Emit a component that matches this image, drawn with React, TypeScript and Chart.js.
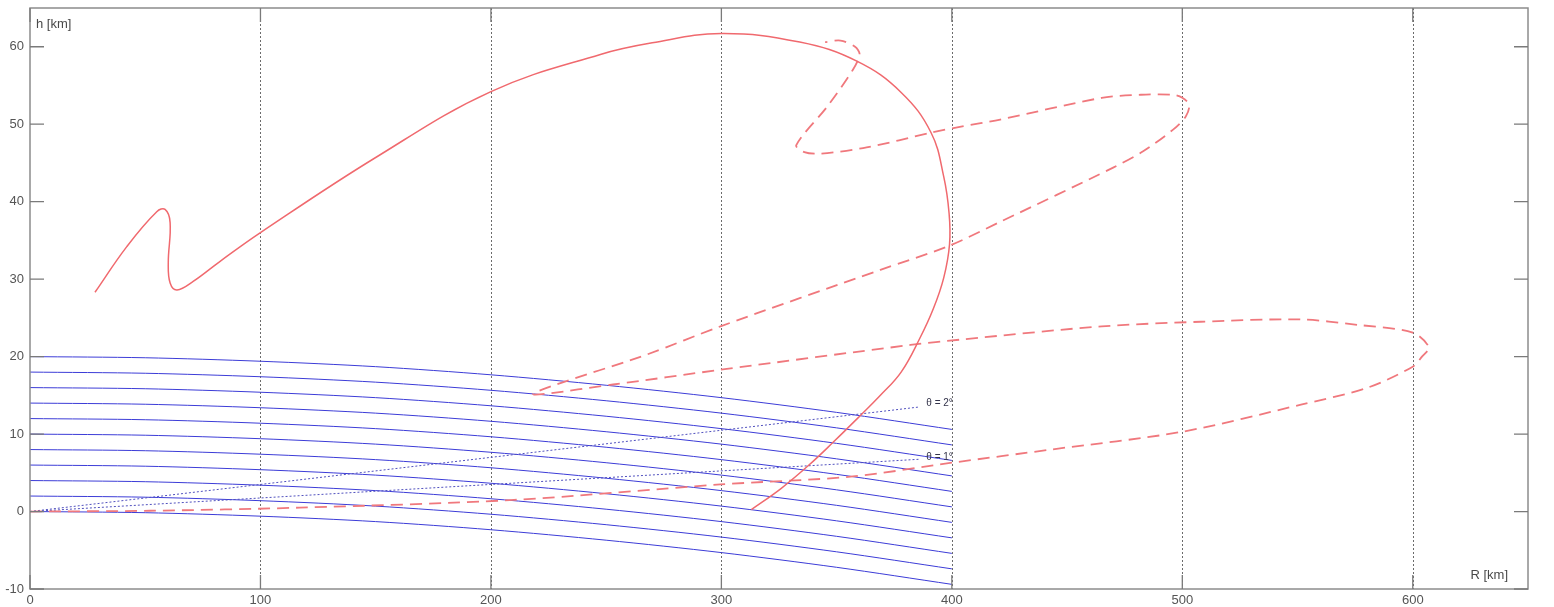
import React, { useEffect, useRef } from "react";
import { Chart, registerables } from "chart.js";

Chart.register(...registerables);

// ---- axes ----
const X_TICKS = [0, 100, 200, 300, 400, 500, 600];
const Y_TICKS = [-10, 0, 10, 20, 30, 40, 50, 60];
const X_MIN = 0;
const X_MAX = 650;
const Y_MIN = -10;
const Y_MAX = 65;

// ---- blue beam lines (range R in km, height h in km) ----
const BEAM_R = [0, 50, 100, 150, 200, 250, 300, 350, 400];
const BEAM_H0 = [0, -0.15, -0.6, -1.3, -2.35, -3.7, -5.3, -7.2, -9.4];
const BEAM_H2 = [2, 1.85, 1.4, 0.7, -0.35, -1.7, -3.3, -5.2, -7.4];
const BEAM_H4 = [4, 3.85, 3.4, 2.7, 1.65, 0.3, -1.3, -3.2, -5.4];
const BEAM_H6 = [6, 5.85, 5.4, 4.7, 3.65, 2.3, 0.7, -1.2, -3.4];
const BEAM_H8 = [8, 7.85, 7.4, 6.7, 5.65, 4.3, 2.7, 0.8, -1.4];
const BEAM_H10 = [10, 9.85, 9.4, 8.7, 7.65, 6.3, 4.7, 2.8, 0.6];
const BEAM_H12 = [12, 11.85, 11.4, 10.7, 9.65, 8.3, 6.7, 4.8, 2.6];
const BEAM_H14 = [14, 13.85, 13.4, 12.7, 11.65, 10.3, 8.7, 6.8, 4.6];
const BEAM_H16 = [16, 15.85, 15.4, 14.7, 13.65, 12.3, 10.7, 8.8, 6.6];
const BEAM_H18 = [18, 17.85, 17.4, 16.7, 15.65, 14.3, 12.7, 10.8, 8.6];
const BEAM_H20 = [20, 19.85, 19.4, 18.7, 17.65, 16.3, 14.7, 12.8, 10.6];
const BEAMS = [BEAM_H0, BEAM_H2, BEAM_H4, BEAM_H6, BEAM_H8, BEAM_H10, BEAM_H12, BEAM_H14, BEAM_H16, BEAM_H18, BEAM_H20];

// ---- elevation rays ----
const RAY_R = [0, 386];
const RAY_2DEG_H = [0, 13.5];
const RAY_1DEG_H = [0, 6.75];
const RAY_LABELS = ["θ = 2°", "θ = 1°"];
const RAY_LABEL_POS_R = [400, 400];
const RAY_LABEL_POS_H = [14.0, 7.0];

// ---- red solid curve ----
const SOLID_R = [28.2, 42, 55, 58.6, 60.8, 60, 60.8, 63.8, 70.8, 82.5, 100, 150, 200, 247.5, 270, 300, 334, 359, 378, 391, 396.5, 398.8, 399, 396.5, 392, 386, 378, 369, 360, 348.7, 338, 326, 313];
const SOLID_H = [28.3, 34.2, 38.7, 39, 37.3, 32.1, 29.5, 28.6, 29.7, 32.3, 36, 45.7, 54.2, 59, 60.5, 61.7, 60.6, 58.1, 54.1, 48.9, 43.2, 38.5, 34.5, 30.2, 26.2, 22.3, 18.0, 15.0, 12.3, 9.0, 6.0, 3.0, 0.25];

// ---- red dashed curve ----
const DASH_R = [0, 52, 117, 210, 299.6, 356, 400, 443, 500, 551.5, 580.5, 600, 604, 607, 600, 576, 551, 508, 465, 404, 382, 299.6, 253, 218.4, 268, 299.6, 369, 398, 421, 470, 483, 496, 501.5, 503, 500, 496, 482, 465, 421, 404, 391, 363, 343, 336, 332.5, 346, 357, 360, 358, 351.7, 345];
const DASH_H = [0, 0.1, 0.5, 1.5, 3.5, 4.5, 6.3, 8, 10.3, 13.8, 16, 18.7, 20, 21.2, 23.1, 24.1, 24.8, 24.5, 23.9, 22.2, 21.5, 18.3, 16.4, 15.2, 20.3, 23.9, 31.2, 34.2, 37.4, 44.4, 46.5, 49.3, 51, 52.5, 53.4, 53.8, 53.8, 53.4, 50.6, 49.7, 48.9, 47, 46.2, 46.4, 47.3, 52.3, 57, 59, 60, 60.8, 60.6];

const X_TITLE = "R [km]";
const Y_TITLE = "h [km]";

const FONT = "'Liberation Sans', Arial, Helvetica, sans-serif";

function pts(xs: number[], ys: number[]) {
  return xs.map((x, i) => ({ x, y: ys[i] }));
}

const framePlugin = {
  id: "frame",
  beforeDatasetsDraw(chart: any) {
    const { ctx, chartArea: a, scales } = chart;
    const xs = scales.x;
    ctx.save();
    ctx.strokeStyle = "#6b6b6b";
    ctx.lineWidth = 1;
    ctx.setLineDash([2, 2]);
    X_TICKS.forEach((v) => {
      if (v === X_MIN) return;
      const px = Math.round(xs.getPixelForValue(v)) + 0.5;
      ctx.beginPath();
      ctx.moveTo(px, a.top);
      ctx.lineTo(px, a.bottom);
      ctx.stroke();
    });
    ctx.restore();
  },
  afterDraw(chart: any) {
    const { ctx, chartArea: a, scales } = chart;
    const xs = scales.x;
    const ys = scales.y;
    ctx.save();
    ctx.strokeStyle = "#8c8c8c";
    ctx.lineWidth = 1.5;
    ctx.setLineDash([]);
    ctx.strokeRect(a.left, a.top, a.right - a.left, a.bottom - a.top);
    const tl = 14;
    ctx.strokeStyle = "#7a7a7a";
    ctx.lineWidth = 1.3;
    X_TICKS.forEach((v) => {
      const px = xs.getPixelForValue(v);
      ctx.beginPath();
      ctx.moveTo(px, a.bottom);
      ctx.lineTo(px, a.bottom - tl);
      ctx.moveTo(px, a.top);
      ctx.lineTo(px, a.top + tl);
      ctx.stroke();
    });
    Y_TICKS.forEach((v) => {
      const py = ys.getPixelForValue(v);
      ctx.beginPath();
      ctx.moveTo(a.left, py);
      ctx.lineTo(a.left + tl, py);
      ctx.moveTo(a.right, py);
      ctx.lineTo(a.right - tl, py);
      ctx.stroke();
    });
    ctx.fillStyle = "#4a4a4a";
    ctx.font = `13px ${FONT}`;
    ctx.textBaseline = "middle";
    ctx.textAlign = "left";
    ctx.fillText(Y_TITLE, a.left + 6, a.top + 16);
    ctx.textAlign = "right";
    ctx.fillText(X_TITLE, a.right - 20, a.bottom - 14);
    ctx.fillStyle = "#33334a";
    ctx.font = `10px ${FONT}`;
    ctx.textAlign = "right";
    RAY_LABELS.forEach((t, i) => {
      const px = xs.getPixelForValue(RAY_LABEL_POS_R[i]);
      const py = ys.getPixelForValue(RAY_LABEL_POS_H[i]);
      ctx.fillText(t, px + 1, py);
    });
    ctx.restore();
  },
};

export default function App() {
  const ref = useRef<HTMLCanvasElement | null>(null);

  useEffect(() => {
    document.body.style.margin = "0";
    document.body.style.overflow = "hidden";
    const canvas = ref.current;
    if (!canvas) return;

    const red = "rgb(240, 105, 110)";
    const blue = "rgb(60, 60, 215)";
    const rayColor = "rgb(80, 80, 190)";

    const datasets: any[] = [
      {
        data: pts(SOLID_R, SOLID_H),
        showLine: true,
        borderColor: red,
        borderWidth: 1.5,
        pointRadius: 0,
        tension: 0.4,
      },
      {
        data: pts(DASH_R, DASH_H),
        showLine: true,
        borderColor: "rgb(240, 120, 125)",
        borderWidth: 1.8,
        borderDash: [12, 7],
        pointRadius: 0,
        tension: 0.3,
      },
      {
        data: pts(RAY_R, RAY_2DEG_H),
        showLine: true,
        borderColor: rayColor,
        borderWidth: 1,
        borderDash: [2, 2],
        pointRadius: 0,
      },
      {
        data: pts(RAY_R, RAY_1DEG_H),
        showLine: true,
        borderColor: rayColor,
        borderWidth: 1,
        borderDash: [2, 2],
        pointRadius: 0,
      },
      ...BEAMS.map((b) => ({
        data: pts(BEAM_R, b),
        showLine: true,
        borderColor: blue,
        borderWidth: 1,
        pointRadius: 0,
        tension: 0.3,
      })),
    ];

    const chart = new Chart(canvas, {
      type: "scatter",
      data: { datasets },
      options: {
        animation: false,
        responsive: false,
        events: [],
        layout: { padding: { left: 0, right: 26, top: 8, bottom: 0 } },
        plugins: { legend: { display: false }, tooltip: { enabled: false } },
        scales: {
          x: {
            type: "linear",
            min: X_MIN,
            max: X_MAX,
            grid: { display: false, drawTicks: false },
            border: { display: false },
            ticks: {
              stepSize: 100,
              includeBounds: false,
              padding: 4,
              maxRotation: 0,
              color: "#555",
              font: { family: FONT, size: 13 },
            },
            afterFit: (s: any) => {
              s.height = 18;
              s.paddingLeft = 0;
              s.paddingRight = 0;
            },
          },
          y: {
            type: "linear",
            min: Y_MIN,
            max: Y_MAX,
            grid: { display: false, drawTicks: false },
            border: { display: false },
            ticks: {
              stepSize: 10,
              includeBounds: false,
              padding: 6,
              color: "#555",
              font: { family: FONT, size: 13 },
            },
            afterFit: (s: any) => {
              s.width = 30;
              s.paddingTop = 0;
              s.paddingBottom = 0;
            },
          },
        },
      },
      plugins: [framePlugin],
    } as any);

    return () => chart.destroy();
  }, []);

  return (
    <div style={{ width: 1554, height: 607, background: "#fff" }}>
      <canvas ref={ref} width={1554} height={607} style={{ display: "block" }} />
    </div>
  );
}
